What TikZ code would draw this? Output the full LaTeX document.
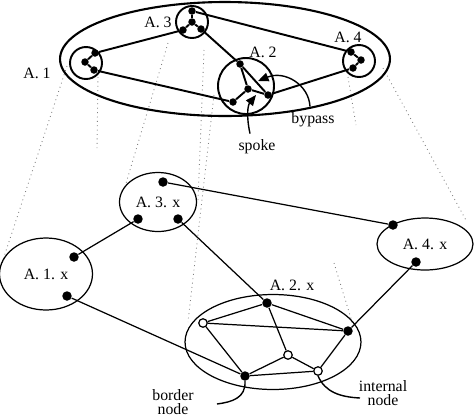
\documentclass[tikz,border=0pt]{standalone}
\usepackage{fontspec}
\setmainfont{Liberation Serif}
\usetikzlibrary{shapes.geometric,arrows.meta}

\begin{document}
\begin{tikzpicture}[x=0.02cm,y=-0.02cm,font=\fontsize{9}{10}\selectfont,
  bnode/.style={circle,fill=black,inner sep=0pt,minimum size=0.19cm},
  inode/.style={circle,draw,fill=white,line width=0.7pt,inner sep=0pt,minimum size=0.17cm},
  tnode/.style={circle,fill=black,inner sep=0pt,minimum size=0.15cm},
  clus/.style={circle,draw,line width=1.1pt,inner sep=0pt},
  area/.style={ellipse,draw,line width=0.7pt,inner sep=0pt},
  toplink/.style={line width=1.1pt},
  sublink/.style={line width=0.7pt},
  proj/.style={line width=0.5pt,gray,dotted},
  note/.style={line width=0.8pt},
  tag/.style={align=center,inner sep=0pt,font=\fontsize{9}{7.5}\selectfont}]
\useasboundingbox (0,0) rectangle (474,417);

\foreach \p/\q in {{(67,66)}/{(1,266)},{(98,77)}/{(97,148)},{(168,43)}/{(124,190)},
  {(204,50)}/{(198,200)},{(214,95)}/{(188,322)},{(348,77)}/{(356,125)},
  {(334,263)}/{(353,325)},{(383,68)}/{(467,222)}}
  \draw[proj] \p -- \q;

\node[area,line width=1.2pt,minimum width=6.6cm,minimum height=2.28cm] (A1) at (225,59) {};
\node (A1lab) at (37,73) {A. 1};

\node[clus,minimum size=0.64cm] (c1) at (86,63) {};
\node[clus,minimum size=0.64cm] (c3) at (192,22) {};
\node[clus,minimum size=0.64cm] (c4) at (359,61) {};
\node[clus,minimum size=1.12cm] (c2) at (246,86) {};
\node (c3lab) at (158,22) {A. 3};
\node (c2lab) at (263,52) {A. 2};
\node (c4lab) at (348,37) {A. 4};

\node[tnode] (h1) at (85,62) {};
\node[tnode] (a1u) at (95,53) {};
\node[tnode] (a1l) at (94,70) {};
\node[tnode] (h3) at (192,22) {};
\node[tnode] (a3t) at (192,11) {};
\node[tnode] (a3l) at (183,30) {};
\node[tnode] (a3r) at (201,29) {};
\node[tnode] (h4) at (361,60) {};
\node[tnode] (a4u) at (351,52) {};
\node[tnode] (a4l) at (353,68) {};
\node[tnode] (h2) at (248,89) {};
\node[tnode] (a2t) at (240,64) {};
\node[tnode] (a2l) at (233,102) {};
\node[tnode] (a2r) at (268,95) {};

\draw[toplink] (h1) -- (a1u);
\draw[toplink] (h1) -- (a1l);
\draw[toplink] (h3) -- (a3t);
\draw[toplink] (h3) -- (a3l);
\draw[toplink] (h3) -- (a3r);
\draw[toplink] (h4) -- (a4u);
\draw[toplink] (h4) -- (a4l);
\draw[toplink] (h2) -- (a2t);
\draw[toplink] (h2) -- (a2l);
\draw[toplink] (h2) -- (a2r);
\draw[toplink] (a2t) -- (a2r);

\draw[toplink] (a1u) -- (a3l);
\draw[toplink] (a1l) -- (a2l);
\draw[toplink] (a3t) -- (a4u);
\draw[toplink] (a3r) -- (a2t);
\draw[toplink] (a2r) -- (a4l);

\node (bylab) at (313,120) {bypass};
\node (splab) at (257,147) {spoke};
\draw[note,-{Triangle[length=6pt,width=5pt]}] (bylab.north) ++(-3,0) .. controls (309,85) and (285,70) .. (258,81);
\draw[note,-{Triangle[length=6pt,width=5pt]}] (splab.north) ++(-7,0) .. controls (246,115) and (248,105) .. (256,95);

\node[area,minimum width=1.54cm,minimum height=1.18cm] (E3) at (158,202) {A. 3. x};
\node[area,minimum width=1.86cm,minimum height=1.44cm] (E1) at (46,274) {A. 1. x};
\node[area,minimum width=1.92cm,minimum height=1.04cm] (E4) at (425,244) {A. 4. x};
\node[area,minimum width=3.52cm,minimum height=1.9cm] (E2) at (273,342) {};
\node (E2lab) at (292,285) {A. 2. x};

\node[bnode] (b3t) at (163,182) {};
\node[bnode] (b3l) at (138,219) {};
\node[bnode] (b3r) at (178,219) {};
\node[bnode] (b1u) at (74,257) {};
\node[bnode] (b1l) at (67,296) {};
\node[bnode] (b4u) at (393,225) {};
\node[bnode] (b4l) at (416,262) {};
\node[bnode] (b2t) at (267,303) {};
\node[bnode] (b2r) at (348,331) {};
\node[bnode] (b2b) at (245,376) {};
\node[inode] (w2l) at (203,323) {};
\node[inode] (w2c) at (288,355) {};
\node[inode] (w2r) at (318,371) {};

\draw[sublink] (b3t) -- (b4u);
\draw[sublink] (b3l) -- (b1u);
\draw[sublink] (b3r) -- (b2t);
\draw[sublink] (b1l) -- (b2b);
\draw[sublink] (b4l) -- (b2r);
\draw[sublink] (w2l) -- (b2t);
\draw[sublink] (b2t) -- (b2r);
\draw[sublink] (w2l) -- (b2r);
\draw[sublink] (w2l) -- (b2b);
\draw[sublink] (b2t) -- (w2c);
\draw[sublink] (w2c) -- (b2b);
\draw[sublink] (w2c) -- (w2r);
\draw[sublink] (b2b) -- (w2r);
\draw[sublink] (w2r) -- (b2r);

\node[tag] (bdlab) at (173,402) {border\\node};
\node[tag] (inlab) at (383,393) {internal\\node};
\draw[note] (b2b.south) .. controls (246,398) and (232,402) .. (217,404);
\draw[note] (w2r.south) .. controls (325,392) and (340,397) .. (360,398);
\end{tikzpicture}
\end{document}
